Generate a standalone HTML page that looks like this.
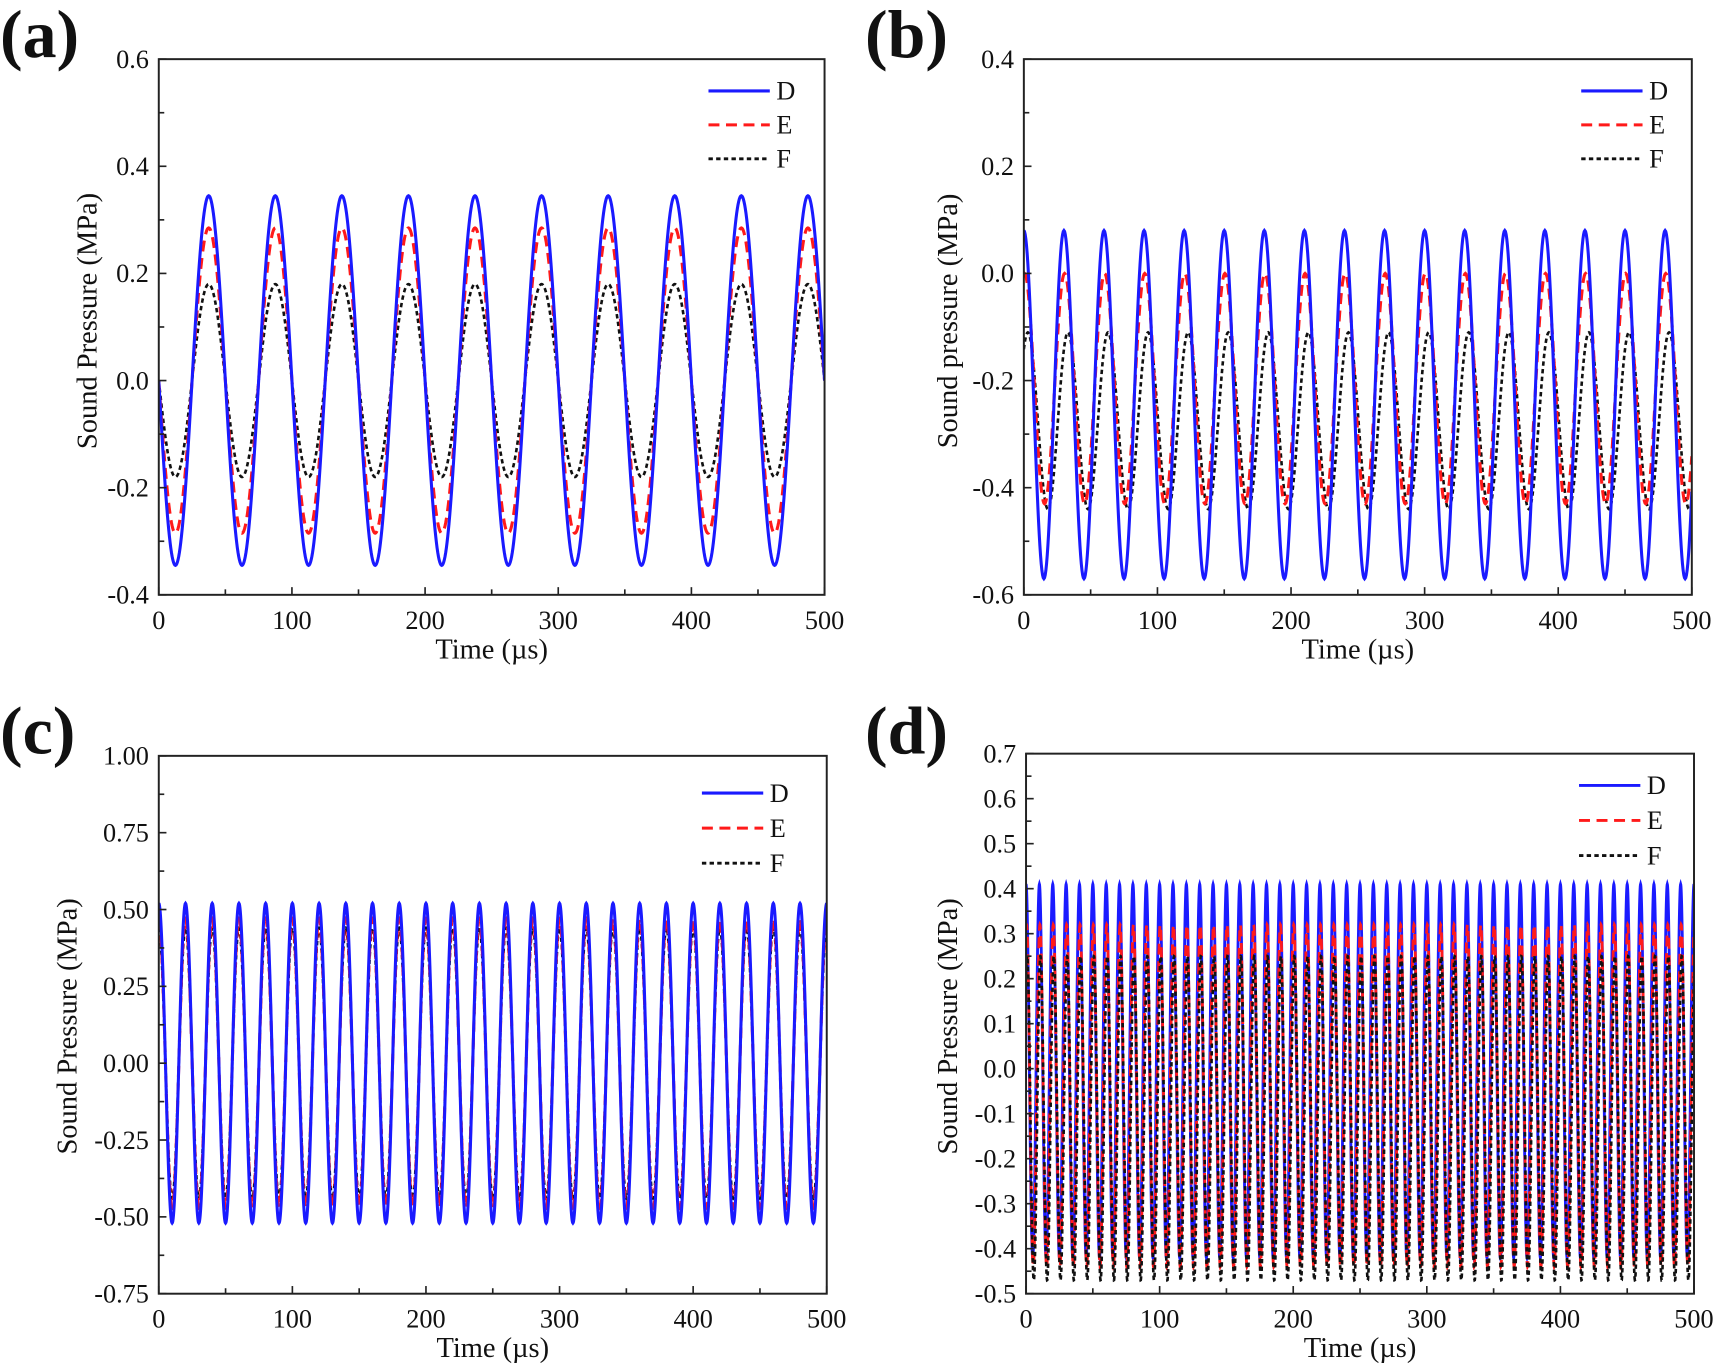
<!DOCTYPE html>
<html><head><meta charset="utf-8"><style>
html,body{margin:0;padding:0;background:#fff;}
svg{display:block;}
text{font-family:"Liberation Serif",serif;fill:#111;}
</style></head><body>
<svg id="s" width="1717" height="1366" viewBox="0 0 1568 1247" preserveAspectRatio="none" xmlns="http://www.w3.org/2000/svg"></svg>
<script>
var S=document.getElementById('s');var NS='http://www.w3.org/2000/svg';
function el(n,a,t){var e=document.createElementNS(NS,n);for(var k in a)e.setAttribute(k,a[k]);if(t!=null)e.textContent=t;S.appendChild(e);return e;}
var cid=0;
function panel(c){
 var X=function(t){return c.x0+(c.x1-c.x0)*t/500;};
 var Y=function(v){return c.y1-(c.y1-c.y0)*(v-c.ymin)/(c.ymax-c.ymin);};
 cid++;
 var cp=el('clipPath',{id:'c'+cid});
 var r=document.createElementNS(NS,'rect');r.setAttribute('x',c.x0);r.setAttribute('y',c.y0);r.setAttribute('width',c.x1-c.x0);r.setAttribute('height',c.y1-c.y0);cp.appendChild(r);
 var lw=c.lw||[2.8,2.8,2.4];
 var styles=[['#1a1aff',lw[0],''],['#ff1a1a',lw[1],'10 6'],['#111',lw[2],'4 3']];
 var order=c.order||[2,1,0];
 order.forEach(function(i){
  var f=c.f[i],d='';
  for(var t=0;t<=500;t+=c.step){d+=(t?'L':'M')+X(t).toFixed(2)+' '+Y(f(t)).toFixed(2);}
  el('path',{d:d,fill:'none',stroke:styles[i][0],'stroke-width':styles[i][1],'stroke-dasharray':styles[i][2],'clip-path':'url(#c'+cid+')'});
 });
 el('rect',{x:c.x0,y:c.y0,width:c.x1-c.x0,height:c.y1-c.y0,fill:'none',stroke:'#222','stroke-width':1.8});
 for(var t=0;t<=500;t+=50){var big=t%100==0;el('line',{x1:X(t),x2:X(t),y1:c.y1,y2:c.y1-(big?7:5),stroke:'#222','stroke-width':1.5});
  if(big)el('text',{x:X(t),y:c.y1+31,'text-anchor':'middle','font-size':24},String(t));}
 c.yt.forEach(function(v,i){var y=Y(v);el('line',{x1:c.x0,x2:c.x0+7,y1:y,y2:y,stroke:'#222','stroke-width':1.5});
  el('text',{x:c.x0-9,y:y+8,'text-anchor':'end','font-size':24},c.yl[i]);
  if(i<c.yt.length-1){var ym=(Y(v)+Y(c.yt[i+1]))/2;el('line',{x1:c.x0,x2:c.x0+5,y1:ym,y2:ym,stroke:'#222','stroke-width':1.5});}});
 el('text',{x:(c.x0+c.x1)/2,y:c.y1+58,'text-anchor':'middle','font-size':26},'Time (\u00b5s)');
 el('text',{x:0,y:0,'text-anchor':'middle','font-size':26,transform:'translate('+c.tx+','+c.ty+') rotate(-90)'},c.title);
 el('text',{x:c.lx,y:c.ly,'font-size':62,'font-weight':'bold'},c.label);
 ['D','E','F'].forEach(function(n,i){var y=c.lgy+i*c.lgd;
  el('line',{x1:c.lgx,x2:c.lgx+56,y1:y,y2:y,stroke:styles[i][0],'stroke-width':Math.max(styles[i][1],2.6),'stroke-dasharray':styles[i][2]});
  el('text',{x:c.lgx+62,y:y+8,'font-size':24},n);});
}
var P=Math.PI*2;
panel({x0:145,x1:753,y0:54,y1:543,ymin:-0.4,ymax:0.6,step:0.5,
 yt:[-0.4,-0.2,0,0.2,0.4,0.6],yl:['-0.4','-0.2','0.0','0.2','0.4','0.6'],
 f:[function(t){return -0.345*Math.sin(P*t/50);},function(t){return -0.285*Math.sin(P*t/50);},function(t){return -0.18*Math.sin(P*t/50);}],
 tx:88,ty:293,title:'Sound Pressure (MPa)',lx:0,ly:52,label:'(a)',lgx:647,lgy:83,lgd:31});
panel({x0:935,x1:1545,y0:54,y1:543,ymin:-0.6,ymax:0.4,step:0.5,
 yt:[-0.6,-0.4,-0.2,0,0.2,0.4],yl:['-0.6','-0.4','-0.2','0.0','0.2','0.4'],
 f:[function(t){return -0.245+0.325*Math.cos(P*t/30);},function(t){return -0.215+0.215*Math.cos(P*(t-0.5)/30);},function(t){return -0.275+0.165*Math.cos(P*(t-3)/30);}],
 tx:874,ty:293,title:'Sound pressure (MPa)',lx:790,ly:52,label:'(b)',lgx:1444,lgy:83,lgd:31});
panel({x0:145,x1:755,y0:690,y1:1181,ymin:-0.75,ymax:1.0,step:0.25,
 yt:[-0.75,-0.5,-0.25,0,0.25,0.5,0.75,1.0],yl:['-0.75','-0.50','-0.25','0.00','0.25','0.50','0.75','1.00'],
 f:[function(t){return 0.52*Math.cos(P*t/20);},function(t){return 0.47*Math.cos(P*t/20);},function(t){return 0.44*Math.cos(P*t/20);}],
 tx:70,ty:937,title:'Sound Pressure (MPa)',lx:0,ly:688,label:'(c)',lgx:641,lgy:724,lgd:32});
panel({x0:937,x1:1547,y0:688,y1:1181,ymin:-0.5,ymax:0.7,step:0.125,lw:[2.6,2.6,2.4],order:[0,1,2],
 yt:[-0.5,-0.4,-0.3,-0.2,-0.1,0,0.1,0.2,0.3,0.4,0.5,0.6,0.7],yl:['-0.5','-0.4','-0.3','-0.2','-0.1','0.0','0.1','0.2','0.3','0.4','0.5','0.6','0.7'],
 f:[function(t){return -0.005+0.415*Math.cos(P*t/10);},function(t){return -0.06+0.38*Math.cos(P*(t-0.4)/10);},function(t){return -0.11+0.36*Math.cos(P*(t-0.8)/10);}],
 tx:874,ty:937,title:'Sound Pressure (MPa)',lx:790,ly:688,label:'(d)',lgx:1442,lgy:717,lgd:32});
</script>
</body></html>
